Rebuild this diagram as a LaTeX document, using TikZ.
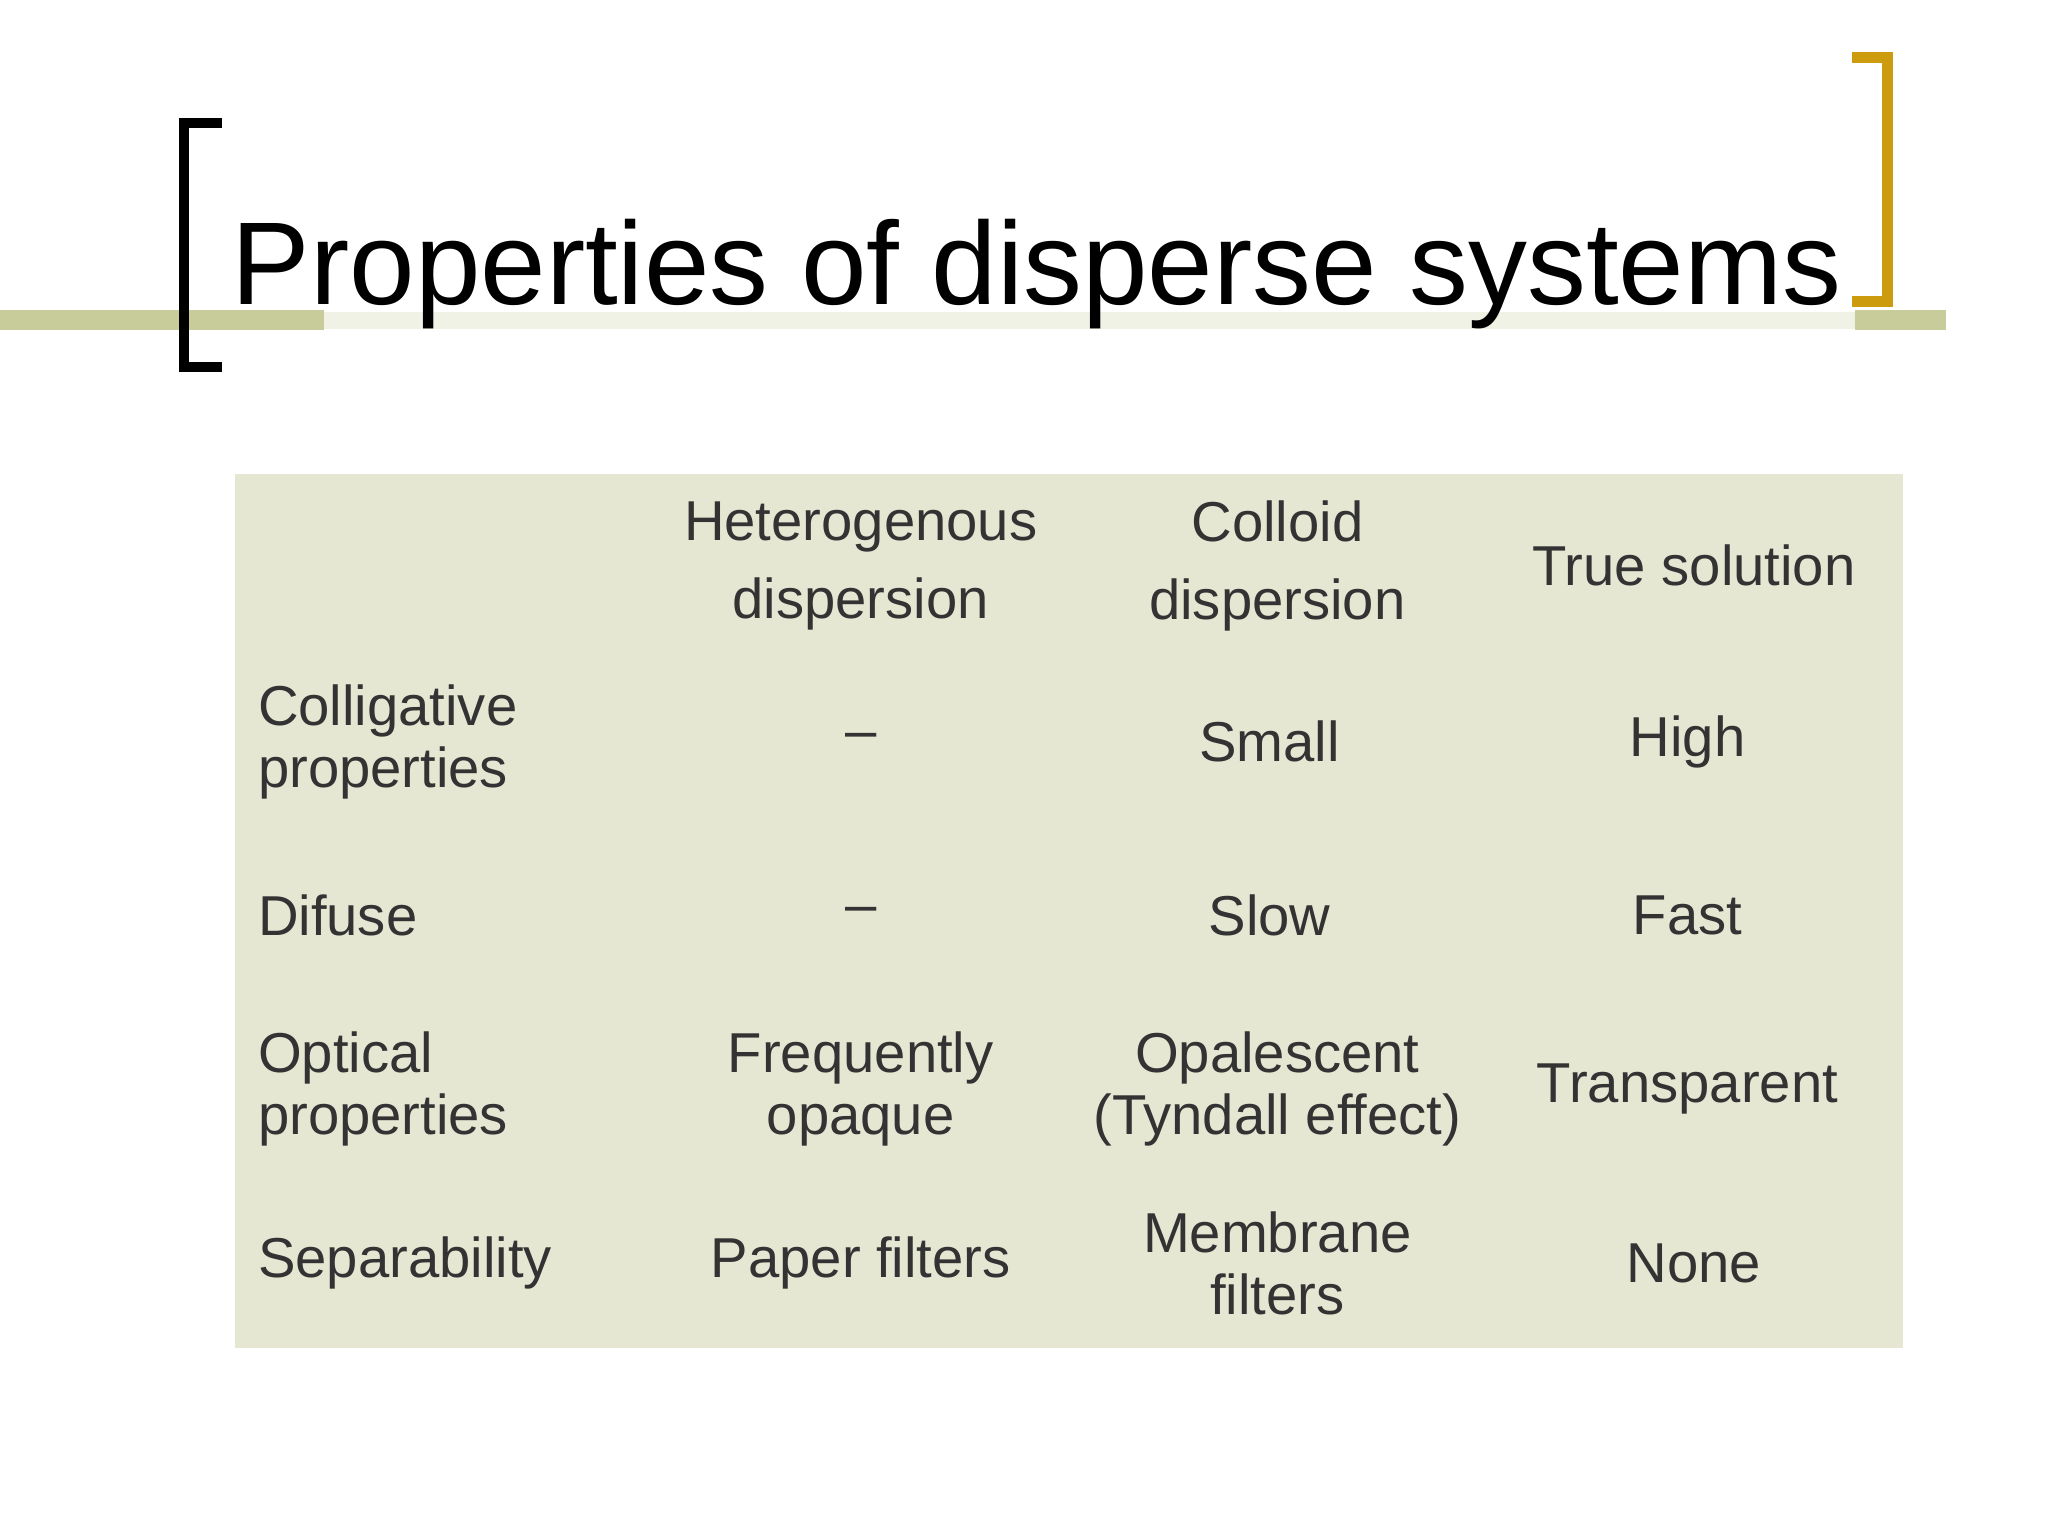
\documentclass[tikz,border=0pt]{standalone}
\usepackage{fontspec}
\setmainfont{Liberation Sans}
\definecolor{olive}{HTML}{C8CB9A}
\definecolor{gold}{HTML}{CC9C0E}
\definecolor{tbl}{HTML}{E6E7D3}
\definecolor{txt}{HTML}{333333}
\begin{document}
\begin{tikzpicture}[x=0.013061cm,y=-0.013061cm,
  cell/.style={text=txt,font=\fontsize{16}{17.7}\selectfont,align=center,inner sep=0pt},
  hcell/.style={text=txt,font=\fontsize{16}{22.2}\selectfont,align=center,inner sep=0pt},
  lcell/.style={text=txt,font=\fontsize{16}{17.7}\selectfont,align=left,anchor=west,inner sep=0pt}]
\useasboundingbox (0,0) rectangle (1568,1176);
\fill[white] (0,0) rectangle (1568,1176);
\fill[olive!25] (248,239) rectangle (1420,252);
\fill[olive] (0,237) rectangle (248,253);
\fill[olive] (1420,237) rectangle (1490,253);
\draw[black,line width=8*0.013061cm] (170,94) -- (141,94) -- (141,281) -- (170,281);
\draw[gold,line width=8*0.013061cm] (1418,44) -- (1445,44) -- (1445,231) -- (1418,231);
\node[anchor=base west,inner sep=0pt,font=\fontsize{33.5}{36}\selectfont] (title) at (177,233) {Properties of disperse systems};
\fill[tbl] (180,363) rectangle (1457,1032);
\node[hcell] (h2) at (659,433) {Heterogenous\\dispersion};
\node[hcell] (h3) at (978,433) {Colloid\\dispersion};
\node[hcell] (h4) at (1297,433) {True solution};
\node[lcell] (r1) at (197,568) {Colligative\\properties};
\node[cell] (r1a) at (659,568) {–};
\node[cell] (r1b) at (972,568) {Small};
\node[cell] (r1c) at (1292,568) {High};
\node[lcell] (r2) at (197,701) {Difuse};
\node[cell] (r2a) at (659,701) {–};
\node[cell] (r2b) at (972,701) {Slow};
\node[cell] (r2c) at (1292,701) {Fast};
\node[lcell] (r3) at (197,834) {Optical\\properties};
\node[cell] (r3a) at (659,834) {Frequently\\opaque};
\node[cell] (r3b) at (978,834) {Opalescent\\(Tyndall effect)};
\node[cell] (r3c) at (1292,834) {Transparent};
\node[lcell] (r4) at (197,967) {Separability};
\node[cell] (r4a) at (659,967) {Paper filters};
\node[cell] (r4b) at (978,967) {Membrane\\filters};
\node[cell] (r4c) at (1297,967) {None};
\end{tikzpicture}
\end{document}
